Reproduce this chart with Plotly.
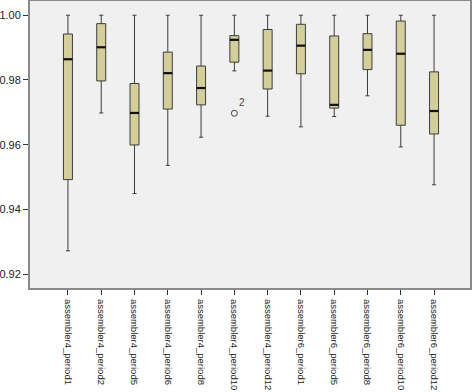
import plotly.graph_objects as go

categories = ["assembler4_period1", "assembler4_period2", "assembler4_period5",
              "assembler4_period6", "assembler4_period8", "assembler4_period10",
              "assembler4_period12", "assembler6_period1", "assembler6_period5",
              "assembler6_period8", "assembler6_period10", "assembler6_period12"]
upper = [1.000, 1.000, 1.000, 1.000, 1.000, 1.000, 1.000, 1.000, 1.000, 1.000, 1.000, 1.000]
q3 = [0.9942, 0.9974, 0.9789, 0.9886, 0.9843, 0.9937, 0.9956, 0.9972, 0.9936, 0.9943, 0.9982, 0.9825]
median = [0.9864, 0.9901, 0.9698, 0.9821, 0.9775, 0.9924, 0.9829, 0.9906, 0.9723, 0.9893, 0.9881, 0.9704]
q1 = [0.9492, 0.9797, 0.9599, 0.9710, 0.9723, 0.9855, 0.9772, 0.9819, 0.9713, 0.9832, 0.9660, 0.9633]
lower = [0.9272, 0.9698, 0.9449, 0.9536, 0.9623, 0.9828, 0.9688, 0.9655, 0.9687, 0.9751, 0.9593, 0.9476]
outlier_cat = [5]
outlier_val = [0.9697]
outlier_label = ["2"]
y_ticks = [0.92, 0.94, 0.96, 0.98, 1.00]

box_w = 0.27
pos = list(range(len(categories)))

fig = go.Figure()
fig.add_trace(go.Box(
    x=pos, q1=q1, median=median, q3=q3, lowerfence=lower, upperfence=upper,
    width=box_w, whiskerwidth=0.45,
    fillcolor="#D3CE9A", line=dict(color="#3c3c3c", width=1),
    boxpoints=False, hoverinfo="skip", showlegend=False,
))
# thicker median lines
mx, my = [], []
for i, m in zip(pos, median):
    mx += [i - box_w / 2, i + box_w / 2, None]
    my += [m, m, None]
fig.add_trace(go.Scatter(x=mx, y=my, mode="lines",
                         line=dict(color="#111111", width=2.2),
                         showlegend=False, hoverinfo="skip"))
fig.add_trace(go.Scatter(
    x=outlier_cat, y=outlier_val, mode="markers+text",
    marker=dict(symbol="circle-open", size=6, color="#444444", line=dict(width=1)),
    text=outlier_label, textposition="top right",
    textfont=dict(family="Liberation Sans, Arial", size=10, color="#444444"),
    showlegend=False, hoverinfo="skip"))

fig.update_layout(
    template="none",
    width=474, height=392,
    margin=dict(l=30, r=4, t=1, b=104, autoexpand=False),
    paper_bgcolor="white", plot_bgcolor="#F0F0F0",
    font=dict(family="Liberation Sans, Arial", size=11, color="#222222"),
    showlegend=False,
)
fig.update_xaxes(
    range=[-1.14, 12.08], tickvals=pos, ticktext=categories, tickangle=90,
    tickfont=dict(size=9.5),
    ticks="outside", ticklen=5, tickcolor="#333333", ticklabelstandoff=2,
    showgrid=False, zeroline=False, automargin=False,
    showline=True, mirror=True, linecolor="#8a8a8a", linewidth=2,
)
fig.update_yaxes(
    range=[0.9157, 1.0044], tickvals=y_ticks, tickformat=".2f",
    ticks="outside", ticklen=5, tickcolor="#333333",
    showgrid=False, zeroline=False, automargin=False,
    showline=True, mirror=True, linecolor="#8a8a8a", linewidth=2,
)

fig.write_html("out.html", config={"displayModeBar": False},
               post_script="document.body.style.margin='0';document.body.style.overflow='hidden';")
